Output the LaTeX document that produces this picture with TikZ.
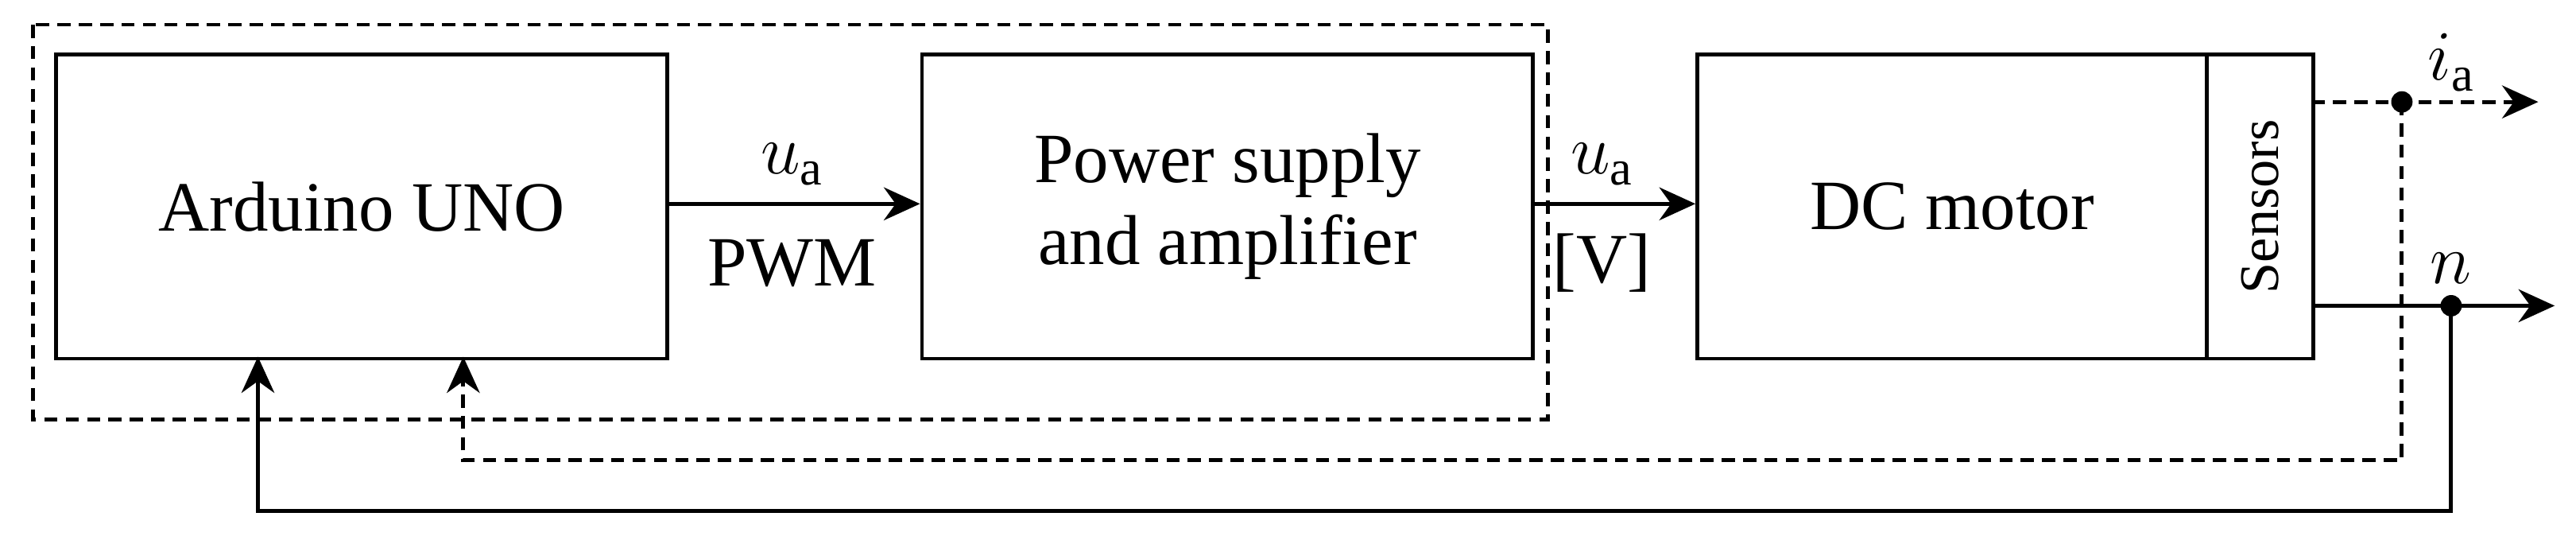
\documentclass[tikz,border=0pt]{standalone}
\usepackage{fix-cm}
\usepackage{fontspec}
\setmainfont{Liberation Serif}
\usetikzlibrary{arrows.meta}
\begin{document}
\begin{tikzpicture}[x=1pt,y=-1pt,line width=2.4pt,
  blk/.style={draw,minimum height=185pt,anchor=north west,inner sep=0pt,align=center,font=\fontsize{43}{50}\selectfont},
  lbl/.style={font=\fontsize{43}{50}\selectfont},
  arr/.style={-{Stealth[length=22pt,width=20pt]}},
  dot/.style={circle,fill,inner sep=0pt,minimum size=13pt}]
\useasboundingbox (0,0) rectangle (1568,326);
\draw[dashed,dash pattern=on 8pt off 5pt] (20,15) rectangle (942,255);
\node[blk,minimum width=372pt] (ard) at (33,32) {Arduino UNO};
\node[blk,minimum width=372pt] (pow) at (560,32) {Power supply\\and amplifier};
\node[blk,minimum width=310pt] (dc) at (1032,32) {DC motor};
\node[blk,minimum width=65pt] (sen) at (1342,32) {};
\node[rotate=90,font=\fontsize{34}{40}\selectfont] at (sen.center) {Sensors};
\draw[arr] (405,124) -- (pow.west |- 0,124);
\node[lbl] (ua1) at (482,100) {$u_{\mathrm{a}}$};
\node[lbl] (pwm) at (482,160) {PWM};
\draw[arr] (932,124) -- (dc.west |- 0,124);
\node[lbl] (ua2) at (975,100) {$u_{\mathrm{a}}$};
\node[lbl] (v) at (975,160) {[V]};
\coordinate (ia0) at (1407,62);
\coordinate (iaE) at (1545,62);
\node[dot] (d1) at (1462,62) {};
\draw[arr,dashed,dash pattern=on 8pt off 5pt] (ia0) -- (iaE);
\node[lbl] (ia) at (1492,38) {$i_{\mathrm{a}}$};
\coordinate (n0) at (1407,186);
\coordinate (nE) at (1555,186);
\node[dot] (d2) at (1492,186) {};
\draw[arr] (n0) -- (nE);
\node[lbl] (n) at (1492,163) {$n$};
\draw[arr,dashed,dash pattern=on 8pt off 5pt] (d1.center) -- (1462,280) -- (282,280) -- (282,217);
\draw[arr] (d2.center) -- (1492,311) -- (157,311) -- (157,217);
\end{tikzpicture}
\end{document}
